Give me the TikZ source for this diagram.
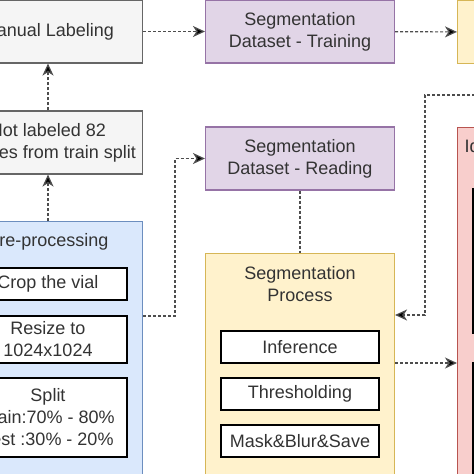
\documentclass[tikz,border=0pt]{standalone}
\usepackage{fontspec}
\setmainfont{Liberation Sans}
\usetikzlibrary{shapes.geometric, arrows.meta, positioning}
\definecolor{greyfill}{HTML}{F5F5F5}
\definecolor{greyline}{HTML}{666666}
\definecolor{greytext}{HTML}{333333}
\definecolor{bluefill}{HTML}{DAE8FC}
\definecolor{blueline}{HTML}{6C8EBF}
\definecolor{purplefill}{HTML}{E1D5E7}
\definecolor{purpleline}{HTML}{9673A6}
\definecolor{yellowfill}{HTML}{FFF2CC}
\definecolor{yellowline}{HTML}{D6B656}
\definecolor{redfill}{HTML}{F8CECC}
\definecolor{redline}{HTML}{B85450}
\definecolor{linkgrey}{HTML}{4D4D4D}
\tikzstyle{box} = [rectangle, align=center, line width=1.1pt, minimum width=189pt, minimum height=63pt, inner sep=0pt]
\tikzstyle{greybox} = [box, draw=greyline, fill=greyfill, text=greytext]
\tikzstyle{bluebox} = [box, draw=blueline, fill=bluefill]
\tikzstyle{purplebox} = [box, draw=purpleline, fill=purplefill, text=greytext]
\tikzstyle{yellowbox} = [box, draw=yellowline, fill=yellowfill]
\tikzstyle{redbox} = [box, draw=redline, fill=redfill]
\tikzstyle{inbox} = [rectangle, align=center, draw=black, fill=white, line width=1.6pt, minimum width=158pt, minimum height=32pt, inner sep=0pt, text=greytext]
\tikzstyle{title} = [align=center, text=greytext]
\tikzstyle{arrow} = [draw=linkgrey, line width=1.2pt, dash pattern=on 3pt off 2pt, -{Stealth[length=12pt,width=11pt,inset=3.5pt,fill=black]}]
\tikzstyle{link} = [draw=linkgrey, line width=1.2pt, dash pattern=on 3pt off 2pt]

\begin{document}
\begin{tikzpicture}[x=1pt, y=-1pt, font=\fontsize{18pt}{22pt}\selectfont]
		\clip (0,0) rectangle (474,474);
		% left column
		\node (manual) [greybox] at (48,31.5) {Manual Labeling};
		\node (notlab) [greybox] at (48,142.5) {Not labeled 82\\images from train split};
		\node (pre) [bluebox, minimum height=270pt, anchor=north] at (48,221) {};
		\node (pretitle) [title] at (48,242) {Pre-processing};
		\node (crop) [inbox] at (48,284) {Crop the vial};
		\node (resize) [inbox, minimum height=47pt] at (48,339.5) {Resize to\\1024x1024};
		\node (split) [inbox, minimum height=79pt] at (48,417.5) {Split\\Train:70\% - 80\%\\Test :30\% - 20\%};
		% middle column
		\node (training) [purplebox] at (300,31.5) {Segmentation\\Dataset - Training};
		\node (reading) [purplebox] at (300,158.5) {Segmentation\\Dataset - Reading};
		\node (proc) [yellowbox, minimum height=240pt, anchor=north] at (300,253) {};
		\node (proctitle) [title] at (300,284) {Segmentation\\Process};
		\node (infer) [inbox] at (300,347) {Inference};
		\node (thresh) [inbox] at (300,394) {Thresholding};
		\node (mask) [inbox] at (300,441) {Mask\&Blur\&Save};
		% right column
		\node (trainbox) [yellowbox, minimum width=100pt, anchor=north west] at (457,0) {};
		\node (idbox) [redbox, minimum width=100pt, minimum height=400pt, anchor=north west] at (457,127) {};
		\node (idtitle) [title, anchor=west] at (461,146) {Id};
		\node (idinA) [inbox, minimum width=60pt, minimum height=144pt, anchor=north west] at (472,188) {};
		\node (idinB) [inbox, minimum width=60pt, minimum height=150pt, anchor=north west] at (472,362) {};
		% connectors
		\coordinate (preout) at ([yshift=-95pt]pre.north east);
		\coordinate (procin) at ([yshift=-62pt]proc.north east);
		\coordinate (procout) at ([yshift=-110pt]proc.north east);
		\coordinate (back) at (490,95);
		\draw [arrow] (notlab) -- (manual);
		\draw [arrow] (pre) -- (notlab);
		\draw [arrow] (manual) -- (training);
		\draw [arrow] (training) -- (trainbox);
		\draw [arrow] (preout) -- ++(32,0) |- (reading);
		\draw [link] (reading) -- (proc);
		\draw [arrow] (back) -- ++(-65,0) |- (procin);
		\draw [arrow] (procout) -- (procout -| idbox.west);
	\end{tikzpicture}
\end{document}
